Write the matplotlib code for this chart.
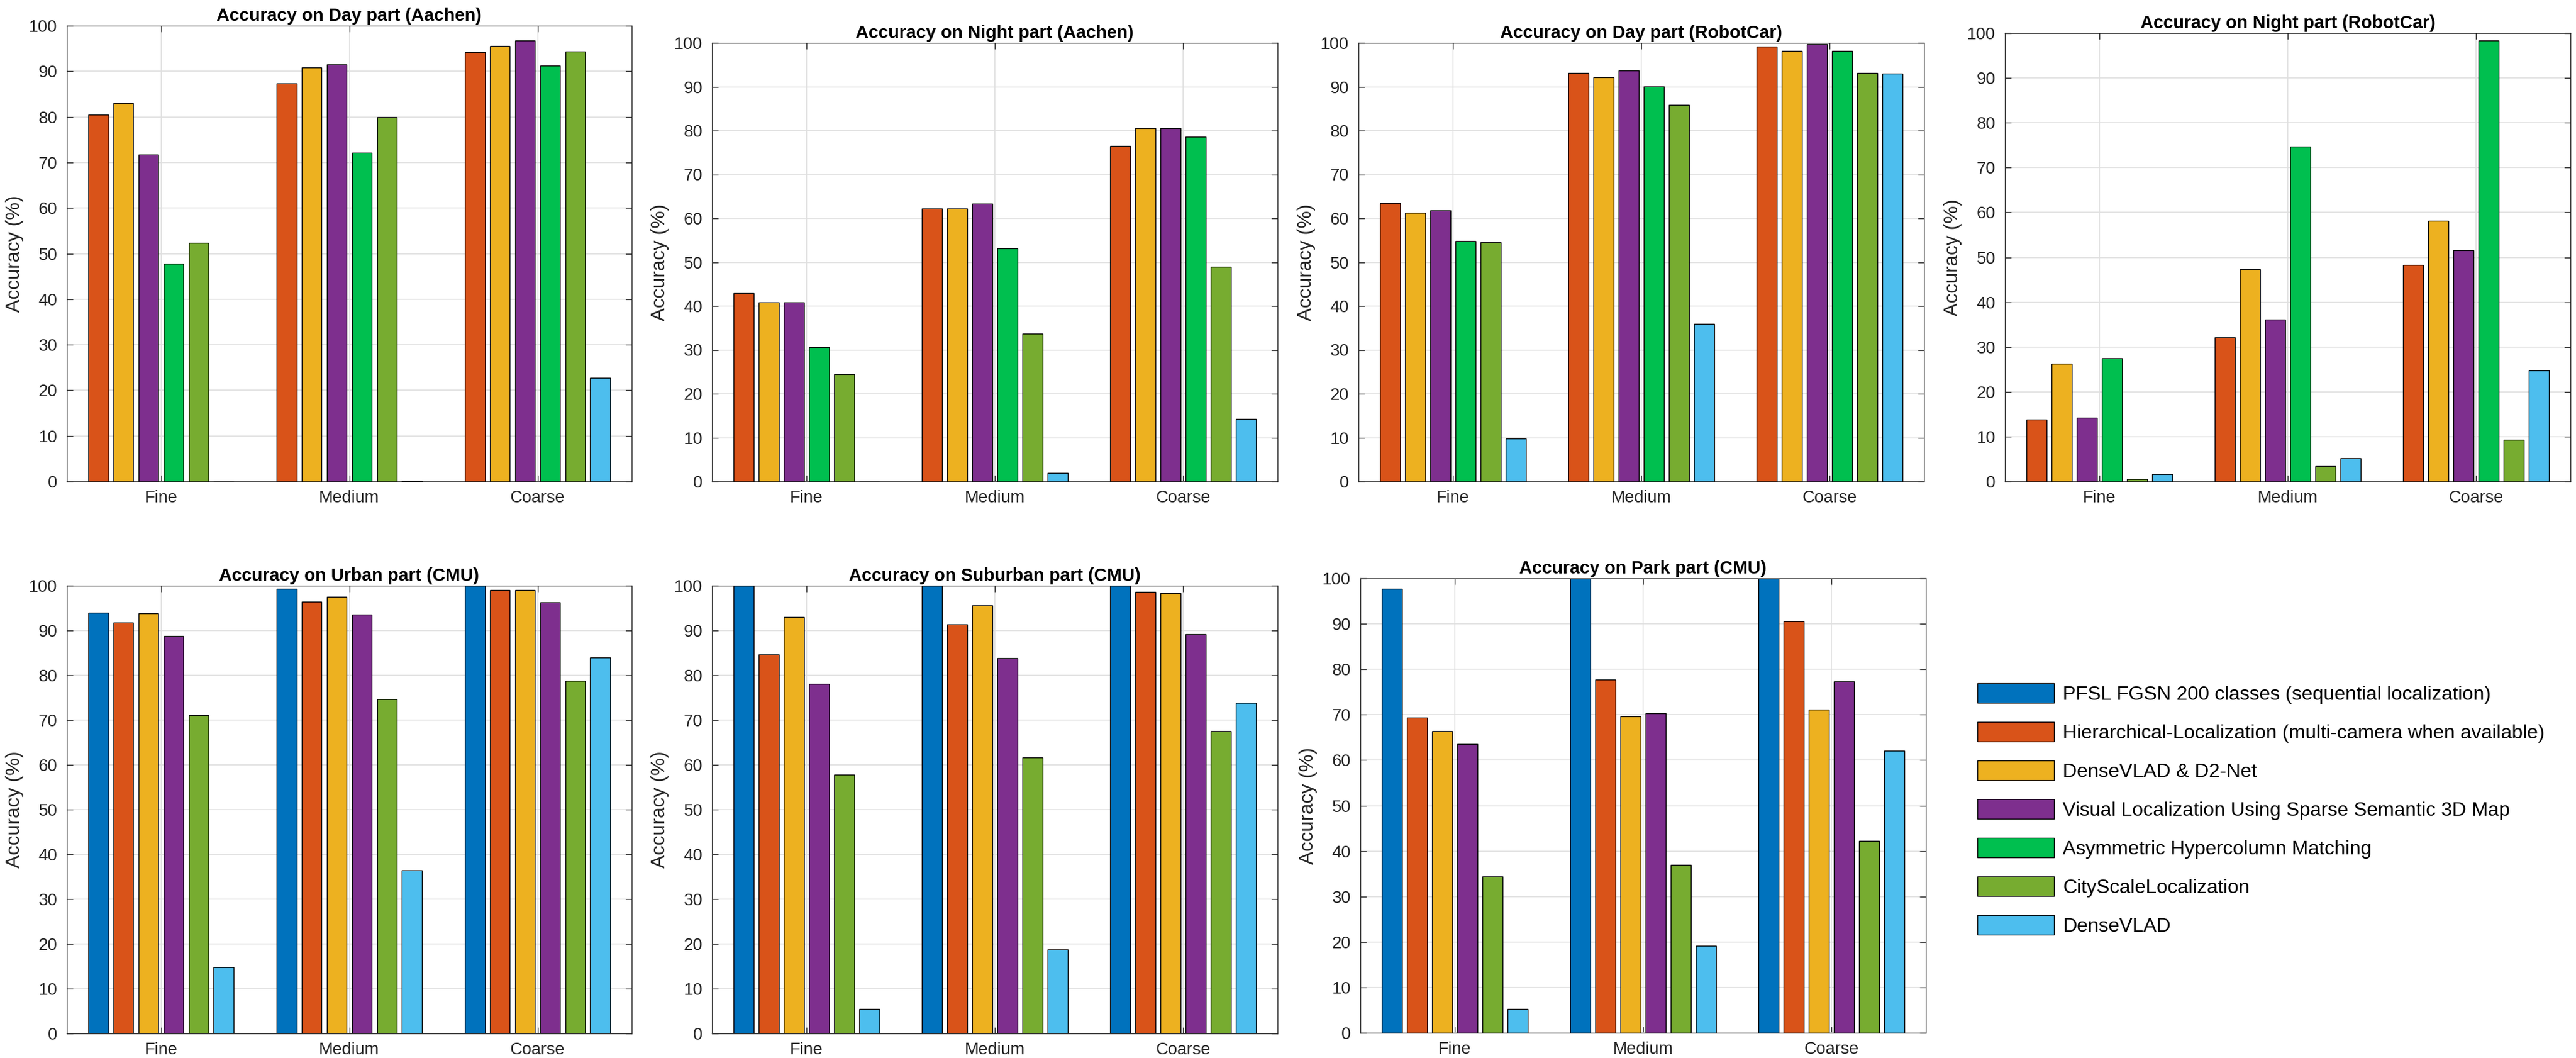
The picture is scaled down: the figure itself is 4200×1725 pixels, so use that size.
import numpy as np
import matplotlib.pyplot as plt
from matplotlib.patches import Patch

NARROW = ["Liberation Sans Narrow", "Liberation Sans", "DejaVu Sans"]
REGULAR = ["Liberation Sans", "DejaVu Sans"]

categories = ["Fine", "Medium", "Coarse"]

methods = [
    "PFSL FGSN 200 classes (sequential localization)",
    "Hierarchical-Localization (multi-camera when available)",
    "DenseVLAD & D2-Net",
    "Visual Localization Using Sparse Semantic 3D Map",
    "Asymmetric Hypercolumn Matching",
    "CityScaleLocalization",
    "DenseVLAD",
]
colors = ["#0072BD", "#D95319", "#EDB120", "#7E2F8E", "#00BF4F", "#77AC30", "#4DBEEE"]

# which methods appear in each benchmark (indices into methods)
aachen_robotcar_methods = [1, 2, 3, 4, 5, 6]
cmu_methods = [0, 1, 2, 3, 5, 6]

# one row per method (same order as the method lists above), one column per category
aachen_day = [
    [80.5, 87.4, 94.2],
    [83.1, 90.9, 95.5],
    [71.8, 91.5, 96.8],
    [47.8, 72.1, 91.3],
    [52.3, 80.0, 94.3],
    [0.0, 0.2, 22.8],
]
aachen_night = [
    [42.9, 62.2, 76.5],
    [40.8, 62.2, 80.6],
    [40.8, 63.3, 80.6],
    [30.6, 53.1, 78.6],
    [24.5, 33.7, 49.0],
    [0.0, 2.0, 14.3],
]
robotcar_day = [
    [63.5, 93.1, 99.1],
    [61.2, 92.1, 98.2],
    [61.8, 93.7, 99.7],
    [54.8, 90.1, 98.2],
    [54.6, 85.9, 93.2],
    [9.8, 35.9, 93.0],
]
robotcar_night = [
    [13.8, 32.2, 48.3],
    [26.3, 47.3, 58.2],
    [14.2, 36.1, 51.6],
    [27.5, 74.7, 98.4],
    [0.6, 3.4, 9.3],
    [1.6, 5.2, 24.7],
]
cmu_urban = [
    [94.0, 99.3, 100.0],
    [91.8, 96.5, 99.0],
    [93.9, 97.6, 99.0],
    [88.8, 93.6, 96.3],
    [71.1, 74.6, 78.7],
    [14.8, 36.4, 84.0],
]
cmu_suburban = [
    [100.0, 100.0, 100.0],
    [84.6, 91.4, 98.6],
    [93.0, 95.6, 98.3],
    [78.1, 83.8, 89.2],
    [57.8, 61.7, 67.5],
    [5.5, 18.7, 73.9],
]
cmu_park = [
    [97.7, 100.0, 100.0],
    [69.3, 77.8, 90.6],
    [66.4, 69.7, 71.1],
    [63.6, 70.3, 77.3],
    [34.4, 37.0, 42.2],
    [5.2, 19.1, 62.1],
]

W, H = 4200, 1725


def frac(left, top, right, bottom):
    return [left / W, 1 - bottom / H, (right - left) / W, (bottom - top) / H]


panels = [
    ("Accuracy on Day part (Aachen)", aachen_day, aachen_robotcar_methods, frac(109, 42, 1030, 785)),
    ("Accuracy on Night part (Aachen)", aachen_night, aachen_robotcar_methods, frac(1161, 70, 2083, 785)),
    ("Accuracy on Day part (RobotCar)", robotcar_day, aachen_robotcar_methods, frac(2215, 70, 3137, 785)),
    ("Accuracy on Night part (RobotCar)", robotcar_night, aachen_robotcar_methods, frac(3269, 54, 4191, 785)),
    ("Accuracy on Urban part (CMU)", cmu_urban, cmu_methods, frac(109, 955, 1030, 1685)),
    ("Accuracy on Suburban part (CMU)", cmu_suburban, cmu_methods, frac(1161, 955, 2083, 1685)),
    ("Accuracy on Park part (CMU)", cmu_park, cmu_methods, frac(2218, 943, 3140, 1684)),
]

fig = plt.figure(figsize=(W / 100, H / 100), dpi=100)
axis_color = "#262626"

for title, series, idx, pos in panels:
    ax = fig.add_axes(pos)
    x = np.arange(1, len(categories) + 1)
    n = len(series)
    slot = 0.8 / n
    for i, (vals, m) in enumerate(zip(series, idx)):
        ax.bar(x + (i - (n - 1) / 2) * slot, vals, width=slot * 0.8,
               color=colors[m], edgecolor="black", linewidth=1.0, zorder=3)
    ax.set_xlim(0.5, 3.5)
    ax.set_ylim(0, 100)
    ax.set_xticks(x)
    ax.set_xticklabels(categories, family=NARROW, fontsize=20)
    ax.set_yticks(np.arange(0, 101, 10))
    ax.set_yticklabels([str(v) for v in range(0, 101, 10)], family=NARROW, fontsize=20)
    ax.grid(True, color="#e0e0e0", linewidth=1.2, zorder=0)
    ax.set_axisbelow(True)
    ax.tick_params(direction="in", length=7, width=1.0, top=True, right=True,
                   color=axis_color, labelcolor=axis_color)
    ax.tick_params(axis="y", pad=11)
    ax.tick_params(axis="x", pad=10)
    for sp in ax.spines.values():
        sp.set_color(axis_color)
        sp.set_linewidth(1.0)
        sp.set_zorder(5)
    ax.set_title(title, family=NARROW, fontsize=21, fontweight="bold", pad=6)
    ax.set_ylabel("Accuracy (%)", family=REGULAR, fontsize=23, color=axis_color, labelpad=6)

handles = [Patch(facecolor=c, edgecolor="black", linewidth=1.0) for c in colors]
fig.legend(handles, methods, loc="upper left", bbox_to_anchor=(3224 / W, 1 - 1114 / H),
           frameon=False, prop={"family": NARROW, "size": 23},
           handlelength=3.9, handleheight=1.15, handletextpad=0.45,
           labelspacing=0.92, borderpad=0, borderaxespad=0)

fig.savefig("out.png", dpi=100)
